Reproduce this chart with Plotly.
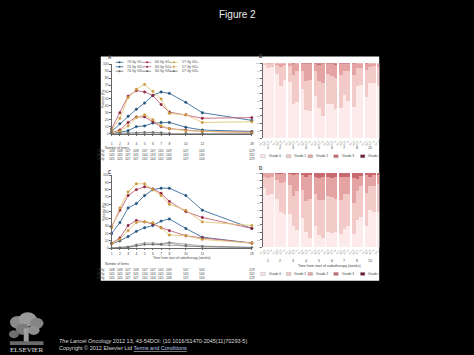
import plotly.graph_objects as go

W, H = 474, 355

weeks = [1, 2, 3, 4, 5, 6, 7, 8, 10, 12, 18]
arms = ["74 Gy", "60 Gy", "57 Gy"]
grade_names = ["Grade 0", "Grade 1", "Grade 2", "Grade 3", "Grade 4"]

# Panel A - acute bowel toxicity, % of patients with grade >= n
bowel_74_g1 = [3, 14, 25, 35, 44, 55, 60, 58, 45, 30, 19]
bowel_74_g2 = [0, 2, 4, 10, 11, 15, 16, 16, 9, 5, 3]
bowel_74_g3 = [0, 0, 0, 1, 1, 1, 1, 1, 1, 0, 0]
bowel_60_g1 = [7, 30, 54, 62, 60, 55, 42, 31, 27, 22, 23]
bowel_60_g2 = [1, 5, 16, 24, 24, 17, 10, 7, 5, 3, 2]
bowel_60_g3 = [0, 0, 1, 1, 2, 1, 1, 0, 0, 0, 0]
bowel_57_g1 = [5, 22, 52, 64, 71, 61, 50, 29, 27, 16, 17]
bowel_57_g2 = [1, 3, 11, 23, 27, 20, 11, 7, 4, 3, 1]
bowel_57_g3 = [0, 0, 0, 1, 1, 2, 1, 0, 0, 0, 0]
bowel_g4 = [0, 0, 0, 0, 0, 0, 0, 0, 0, 0, 0]

# Panel C - acute bladder toxicity, % of patients with grade >= n
bladder_74_g1 = [20, 35, 55, 61, 72, 80, 82, 82, 72, 52, 27]
bladder_74_g2 = [6, 10, 16, 23, 28, 31, 37, 40, 27, 15, 7]
bladder_74_g3 = [0, 1, 1, 3, 5, 5, 5, 7, 3, 2, 1]
bladder_60_g1 = [30, 52, 72, 80, 84, 81, 75, 64, 50, 42, 27]
bladder_60_g2 = [7, 14, 31, 38, 36, 33, 28, 24, 17, 14, 7]
bladder_60_g3 = [0, 1, 2, 5, 7, 7, 6, 8, 5, 3, 1]
bladder_57_g1 = [28, 55, 77, 88, 88, 80, 72, 60, 52, 36, 31]
bladder_57_g2 = [6, 12, 24, 35, 36, 35, 28, 18, 17, 12, 7]
bladder_57_g3 = [0, 0, 1, 3, 5, 5, 5, 4, 3, 2, 1]
bladder_g4 = [0, 0, 0, 0, 0, 0, 0, 0, 0, 0, 0]

# Number of forms
forms_74 = [148, 148, 147, 148, 147, 147, 145, 149, 147, 143, 129]
forms_60 = [145, 145, 147, 145, 144, 143, 145, 144, 145, 140, 132]
forms_57 = [145, 145, 147, 147, 145, 144, 145, 148, 147, 144, 129]

bowel = {
    "74 Gy": [bowel_74_g1, bowel_74_g2, bowel_74_g3, bowel_g4],
    "60 Gy": [bowel_60_g1, bowel_60_g2, bowel_60_g3, bowel_g4],
    "57 Gy": [bowel_57_g1, bowel_57_g2, bowel_57_g3, bowel_g4],
}
bladder = {
    "74 Gy": [bladder_74_g1, bladder_74_g2, bladder_74_g3, bladder_g4],
    "60 Gy": [bladder_60_g1, bladder_60_g2, bladder_60_g3, bladder_g4],
    "57 Gy": [bladder_57_g1, bladder_57_g2, bladder_57_g3, bladder_g4],
}
forms = {"74 Gy": forms_74, "60 Gy": forms_60, "57 Gy": forms_57}

arm_line = {"74 Gy": "#3a6d9c", "60 Gy": "#c2647a", "57 Gy": "#e2c77a"}
arm_mark = {"74 Gy": "#24557f", "60 Gy": "#8e2443", "57 Gy": "#c99a3c"}
grade_col = ["#fcebea", "#f2cac7", "#e3a4a3", "#c96a70", "#6e1632"]

FONT = "Arial, Liberation Sans, sans-serif"
TXT = "#444444"


def fx(px):
    return px / W


def fy(py):
    return 1 - py / H


fig = go.Figure()

# ---------- line panels (A: bowel, C: bladder) ----------
for data, xa, ya in [(bowel, "x", "y"), (bladder, "x2", "y2")]:
    for arm in arms:
        for gi in range(3):
            vals = data[arm][gi]
            fig.add_trace(go.Scatter(
                x=weeks, y=vals, xaxis=xa, yaxis=ya, mode="lines+markers",
                name=f"{arm} G{gi+1}+", showlegend=False, cliponaxis=False,
                line=dict(color=arm_line[arm] if gi < 2 else "#777777",
                          width=0.9 if gi < 2 else 0.6),
                marker=dict(color=arm_mark[arm] if gi < 2 else "#666666",
                            size=2.4 if gi < 2 else 2.0,
                            symbol="circle" if gi < 2 else "cross-thin",
                            line=dict(width=0.5, color=arm_mark[arm] if gi < 2 else "#666666")),
            ))

# ---------- stacked bar panels (B: bowel, D: bladder) ----------
bar_w = 0.29
for data, xa, ya in [(bowel, "x3", "y3"), (bladder, "x4", "y4")]:
    for ai, arm in enumerate(arms):
        g1, g2, g3, g4 = data[arm]
        shares = [
            [100 - a for a in g1],
            [a - b for a, b in zip(g1, g2)],
            [a - b for a, b in zip(g2, g3)],
            [a - b for a, b in zip(g3, g4)],
            list(g4),
        ]
        xpos = [i + (ai - 1) * bar_w for i in range(len(weeks))]
        for gi in range(5):
            fig.add_trace(go.Bar(
                x=xpos, y=shares[gi], xaxis=xa, yaxis=ya, width=bar_w,
                marker=dict(color=grade_col[gi], line=dict(width=0)),
                name=grade_names[gi], showlegend=False,
            ))

bar_ticks = [i + (ai - 1) * bar_w for i in range(len(weeks)) for ai in range(3)]
bar_ticktext = [arm for i in range(len(weeks)) for arm in arms]

axis_common = dict(showline=True, linecolor="#666666", linewidth=0.6, ticks="outside",
                   ticklen=1.5, tickwidth=0.5, tickcolor="#666666", showgrid=False,
                   zeroline=False, tickfont=dict(size=3.4, color=TXT, family=FONT))

layout = dict(
    width=W, height=H, margin=dict(l=0, r=0, t=0, b=0),
    paper_bgcolor="black", plot_bgcolor="white", barmode="stack", bargap=0,
    font=dict(family=FONT, color=TXT),
    xaxis=dict(axis_common, domain=[fx(109), fx(251)], range=[1, 18], anchor="y",
               tickvals=weeks, ticktext=[str(w) for w in weeks], ticklabelstandoff=5),
    yaxis=dict(axis_common, domain=[fy(133), fy(63)], range=[0, 100], anchor="x",
               tickvals=list(range(0, 101, 10))),
    xaxis2=dict(axis_common, domain=[fx(109), fx(251)], range=[1, 18], anchor="y2",
                tickvals=weeks, ticktext=[str(w) for w in weeks], ticklabelstandoff=0),
    yaxis2=dict(axis_common, domain=[fy(249), fy(175)], range=[0, 100], anchor="x2",
                tickvals=list(range(0, 101, 10))),
    xaxis3=dict(axis_common, domain=[fx(262), fx(380)], range=[-0.39, 8.73], anchor="y3",
                tickvals=bar_ticks, ticktext=bar_ticktext, tickangle=-45, showline=False,
                ticks="", tickfont=dict(size=2.4, color="#666666", family=FONT)),
    yaxis3=dict(axis_common, domain=[fy(138), fy(62)], range=[0, 100], anchor="x3",
                tickvals=list(range(0, 101, 10)), tickfont=dict(size=2.4, color="#777777", family=FONT)),
    xaxis4=dict(axis_common, domain=[fx(262), fx(380)], range=[-0.39, 8.73], anchor="y4",
                tickvals=bar_ticks, ticktext=bar_ticktext, tickangle=-45, showline=False,
                ticks="", tickfont=dict(size=2.4, color="#666666", family=FONT)),
    yaxis4=dict(axis_common, domain=[fy(248), fy(173)], range=[0, 100], anchor="x4",
                tickvals=list(range(0, 101, 10)), tickfont=dict(size=2.4, color="#777777", family=FONT)),
)
fig.update_layout(**layout)

shapes = []
ann = []

# white figure sheet
shapes.append(dict(type="rect", xref="paper", yref="paper", x0=fx(98), x1=fx(380),
                   y0=fy(282), y1=fy(55), fillcolor="white", line=dict(width=0), layer="below"))


def text(x, y, s, size=4, color=TXT, anchor="center", angle=0, **kw):
    ann.append(dict(x=x, y=y, xref="paper", yref="paper", text=s, showarrow=False,
                    xanchor=anchor, yanchor="middle", textangle=angle,
                    font=dict(size=size, color=color, family=kw.pop("family", FONT)), **kw))


# panel letters
text(fx(103), fy(56), "<b>A</b>", size=4.5, anchor="left")
text(fx(103), fy(172), "<b>C</b>", size=4.5, anchor="left")
text(fx(256), fy(55), "<b>B</b>", size=4.5, anchor="left")
text(fx(256), fy(168), "<b>D</b>", size=4.5, anchor="left")

# y-axis titles
text(fx(100.5), fy(98), "Patients (%)", size=3.3, angle=-90)
text(fx(100.5), fy(212), "Patients (%)", size=3.3, angle=-90)

# x-axis titles
text(fx(180), fy(258.8), "Time from start of radiotherapy (weeks)", size=3.3)
text(fx(330), fy(267), "Time from start of radiotherapy (weeks)", size=3.6)

# legend for panel A
leg_x = [113, 141, 168]
leg_y = [61, 65.5, 70]
for ci, arm in enumerate(arms):
    for ri in range(3):
        x0 = leg_x[ci]
        y0 = leg_y[ri]
        lc = arm_line[arm] if ri < 2 else "#777777"
        mc = arm_mark[arm] if ri < 2 else "#666666"
        shapes.append(dict(type="line", xref="paper", yref="paper", x0=fx(x0), x1=fx(x0 + 8),
                           y0=fy(y0), y1=fy(y0), line=dict(color=lc, width=0.8)))
        shapes.append(dict(type="circle", xref="paper", yref="paper", x0=fx(x0 + 3), x1=fx(x0 + 5),
                           y0=fy(y0 + 1), y1=fy(y0 - 1), fillcolor=mc, line=dict(width=0)))
        text(fx(x0 + 10), fy(y0), f"{arm} G{ri+1}+", size=3.4, anchor="left")

# number of forms tables
for xa, y_head, rows in [("x", 147.5, [151, 155, 159]), ("x2", 264.5, [271, 275, 279.5])]:
    text(fx(100), fy(y_head), "Number of forms", size=3.2, anchor="left")
    for arm, ry in zip(arms, rows):
        text(fx(104.5), fy(ry), arm, size=2.8, anchor="right")
        for w, n in zip(weeks, forms[arm]):
            ann.append(dict(x=w, y=fy(ry), xref=xa, yref="paper", text=str(n), showarrow=False,
                            xanchor="center", yanchor="middle",
                            font=dict(size=3.3, color=TXT, family=FONT)))

# week labels under bar panels
for xa, yy in [("x3", 148), ("x4", 262)]:
    for i, w in enumerate(weeks):
        ann.append(dict(x=i, y=fy(yy), xref=xa, yref="paper", text=str(w), showarrow=False,
                        xanchor="center", yanchor="middle",
                        font=dict(size=3.6, color=TXT, family=FONT)))

# grade legends
sq_x = [260, 286, 308, 334, 361]
for yy in [156, 275]:
    for gi, gname in enumerate(grade_names):
        shapes.append(dict(type="rect", xref="paper", yref="paper", x0=fx(sq_x[gi]), x1=fx(sq_x[gi] + 4.5),
                           y0=fy(yy + 1.5), y1=fy(yy - 1.5), fillcolor=grade_col[gi],
                           line=dict(color="#999999", width=0.4)))
        text(fx(sq_x[gi] + 6), fy(yy), gname, size=3.4, anchor="left")

# slide title
text(fx(236), fy(13), "Figure 2", size=10, color="#eeeeee")

# citation
text(fx(54), fy(342.5),
     "<i>The Lancet Oncology</i> 2012 13, 43-54DOI: (10.1016/S1470-2045(11)70293-5)",
     size=5.5, color="#dddddd", anchor="left")
text(fx(54), fy(349.5),
     "Copyright © 2012 Elsevier Ltd <u><span style='color:#b8c8ee'>Terms and Conditions</span></u>",
     size=5.5, color="#dddddd", anchor="left")

# Elsevier logo (tree + wordmark)
for (cx, cy, r, c) in [(14, 324, 8, "#8a8a8a"), (24, 321, 9, "#9a9a9a"), (33, 325, 7, "#858585"),
                       (19, 331, 7, "#7a7a7a"), (30, 332, 6, "#8f8f8f"), (10, 336, 5, "#6f6f6f")]:
    shapes.append(dict(type="circle", xref="paper", yref="paper", x0=fx(cx - r), x1=fx(cx + r),
                       y0=fy(cy + r * 0.8), y1=fy(cy - r * 0.8), fillcolor=c, line=dict(width=0)))
shapes.append(dict(type="rect", xref="paper", yref="paper", x0=fx(20), x1=fx(25), y0=fy(346),
                   y1=fy(330), fillcolor="#a0a0a0", line=dict(width=0)))
shapes.append(dict(type="rect", xref="paper", yref="paper", x0=fx(6), x1=fx(40), y0=fy(347),
                   y1=fy(343), fillcolor="#6a6a6a", line=dict(width=0)))
text(fx(23), fy(351.5), "ELSEVIER", size=7, color="#e0e0e0", family="Liberation Serif, serif")

fig.update_layout(shapes=shapes, annotations=ann)
fig.write_html(
    "out.html",
    config={"displayModeBar": False},
    post_script="document.body.style.margin='0';document.body.style.background='black';",
)
